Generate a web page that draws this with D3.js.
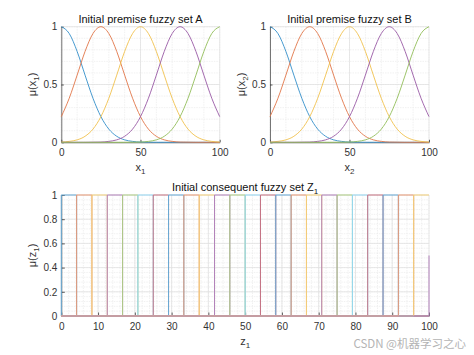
<!DOCTYPE html>
<html>
<head>
<meta charset="utf-8">
<script src="https://cdn.jsdelivr.net/npm/d3@7"></script>
<style>
html,body{margin:0;padding:0;background:#fff;}
svg{display:block;}
</style>
</head>
<body>
<svg id="chart" width="474" height="355"></svg>
<script>
// ---------------- DATA ----------------
const colors = ["#0072BD","#D95319","#EDB120","#7E2F8E","#77AC30","#4DBEEE","#A2142F"];

// sample positions for the premise membership curves
const xSamples = [0,5,10,15,20,25,30,35,40,45,50,55,60,65,70,75,80,85,90,95,100];

// premise fuzzy set A: five membership functions (values read at xSamples)
const muA1 = [1,.941,.786,.581,.381,.222,.114,.052,.021,.008,.002,.001,0,0,0,0,0,0,0,0,0];
const muA2 = [.222,.381,.581,.786,.941,1,.941,.786,.581,.381,.222,.114,.052,.021,.008,.002,.001,0,0,0,0];
const muA3 = [.002,.008,.021,.052,.114,.222,.381,.581,.786,.941,1,.941,.786,.581,.381,.222,.114,.052,.021,.008,.002];
const muA4 = [0,0,0,0,.001,.002,.008,.021,.052,.114,.222,.381,.581,.786,.941,1,.941,.786,.581,.381,.222];
const muA5 = [0,0,0,0,0,0,0,0,0,.001,.002,.008,.021,.052,.114,.222,.381,.581,.786,.941,1];

// premise fuzzy set B: same shapes as A
const muB1 = [1,.941,.786,.581,.381,.222,.114,.052,.021,.008,.002,.001,0,0,0,0,0,0,0,0,0];
const muB2 = [.222,.381,.581,.786,.941,1,.941,.786,.581,.381,.222,.114,.052,.021,.008,.002,.001,0,0,0,0];
const muB3 = [.002,.008,.021,.052,.114,.222,.381,.581,.786,.941,1,.941,.786,.581,.381,.222,.114,.052,.021,.008,.002];
const muB4 = [0,0,0,0,.001,.002,.008,.021,.052,.114,.222,.381,.581,.786,.941,1,.941,.786,.581,.381,.222];
const muB5 = [0,0,0,0,0,0,0,0,0,.001,.002,.008,.021,.052,.114,.222,.381,.581,.786,.941,1];

// consequent fuzzy set Z1: 25 rectangular sets (left edge, right edge, height)
const zLeft  = [0,4.17,8.33,12.5,16.67,20.83,25,29.17,33.33,37.5,41.67,45.83,50,54.17,58.33,62.5,66.67,70.83,75,79.17,83.33,87.5,91.67,95.83,100];
const zRight = [4.17,8.33,12.5,16.67,20.83,25,29.17,33.33,37.5,41.67,45.83,50,54.17,58.33,62.5,66.67,70.83,75,79.17,83.33,87.5,91.67,95.83,100,100];
const zTop   = [1,1,1,1,1,1,1,1,1,1,1,1,1,1,1,1,1,1,1,1,1,1,1,1,0.5];

// tick labels
const xTicksTop = [0,50,100];
const yTicksTop = [0,0.5,1];
const xTicksBot = [0,10,20,30,40,50,60,70,80,90,100];
const yTicksBot = [0,0.2,0.4,0.6,0.8,1];

// ---------------- DRAWING ----------------
const svg = d3.select("#chart");
const FONT = "'Liberation Sans', Arial, Helvetica, sans-serif";
const AX = "#333333";
const pale = (c, t) => d3.interpolateRgb(c, "#ffffff")(t);

function labelWithSub(sel, pre, sub, post) {
  sel.append("tspan").text(pre);
  sel.append("tspan").attr("font-size", 8).attr("dy", 3).text(sub);
  sel.append("tspan").attr("dy", -3).text(post);
}

function panel(cfg) {
  const g = svg.append("g");
  const x = d3.scaleLinear().domain([0,100]).range([cfg.x0, cfg.x1]);
  const y = d3.scaleLinear().domain([0,1]).range([cfg.y1, cfg.y0]);

  // minor grid
  const gg = g.append("g");
  d3.range(0, 100.001, cfg.xMinor).forEach(v => {
    gg.append("line").attr("x1", x(v)).attr("x2", x(v)).attr("y1", cfg.y0).attr("y2", cfg.y1)
      .attr("stroke", "#ebebeb").attr("stroke-width", 0.7).attr("stroke-dasharray", "1.5,1");
  });
  d3.range(0, 1.0001, cfg.yMinor).forEach(v => {
    gg.append("line").attr("x1", cfg.x0).attr("x2", cfg.x1).attr("y1", y(v)).attr("y2", y(v))
      .attr("stroke", "#ebebeb").attr("stroke-width", 0.7).attr("stroke-dasharray", "1.5,1");
  });
  // major grid
  cfg.xTicks.forEach(v => {
    gg.append("line").attr("x1", x(v)).attr("x2", x(v)).attr("y1", cfg.y0).attr("y2", cfg.y1)
      .attr("stroke", "#e0e0e0").attr("stroke-width", 0.7);
  });
  cfg.yTicks.forEach(v => {
    gg.append("line").attr("x1", cfg.x0).attr("x2", cfg.x1).attr("y1", y(v)).attr("y2", y(v))
      .attr("stroke", "#e0e0e0").attr("stroke-width", 0.7);
  });

  // axes
  const xa = g.append("g").attr("transform", `translate(0,${cfg.y1})`)
    .call(d3.axisBottom(x).tickValues(cfg.xTicks).tickSizeInner(-cfg.tick).tickSizeOuter(0).tickPadding(7).tickFormat(d3.format("")));
  const ya = g.append("g").attr("transform", `translate(${cfg.x0},0)`)
    .call(d3.axisLeft(y).tickValues(cfg.yTicks).tickSizeInner(-cfg.tick).tickSizeOuter(0).tickPadding(4).tickFormat(d3.format("")));
  [xa, ya].forEach(a => {
    a.selectAll("path.domain").attr("stroke", "#555").attr("stroke-width", 0.8);
    a.selectAll(".tick line").attr("stroke", AX).attr("stroke-width", 0.8);
    a.selectAll(".tick text").attr("fill", AX).attr("font-size", 10).attr("font-family", FONT);
  });
  ya.selectAll(".tick text").attr("x", -4);

  // title
  const t = g.append("text").attr("x", (cfg.x0 + cfg.x1) / 2).attr("y", cfg.y0 - 4)
    .attr("text-anchor", "middle").attr("font-family", FONT).attr("font-size", 11).attr("fill", "#111");
  labelWithSub(t, cfg.title[0], cfg.title[1], "");

  // x label
  const xl = g.append("text").attr("x", (cfg.x0 + cfg.x1) / 2).attr("y", cfg.y1 + 29)
    .attr("text-anchor", "middle").attr("font-family", FONT).attr("font-size", 11).attr("fill", AX);
  labelWithSub(xl, cfg.xlab[0], cfg.xlab[1], "");

  // y label
  const ylx = cfg.x0 - 25, yly = (cfg.y0 + cfg.y1) / 2;
  const yl = g.append("text").attr("transform", `translate(${ylx},${yly}) rotate(-90)`)
    .attr("text-anchor", "middle").attr("font-family", FONT).attr("font-size", 11).attr("fill", AX);
  labelWithSub(yl, cfg.ylab[0], cfg.ylab[1], ")");

  return {g, x, y};
}

function drawCurves(p, series) {
  const line = d3.line().x((d, i) => p.x(xSamples[i])).y(d => p.y(d)).curve(d3.curveMonotoneX);
  series.forEach((s, k) => {
    p.g.append("path").datum(s).attr("d", line).attr("fill", "none")
      .attr("stroke", pale(colors[k % 7], 0.2)).attr("stroke-width", 0.9);
  });
}

// Panel A
const pA = panel({x0: 61.3, x1: 219.7, y0: 26.7, y1: 142.3, xTicks: xTicksTop, yTicks: yTicksTop,
  xMinor: 10, yMinor: 0.1, tick: 2.5, title: ["Initial premise fuzzy set A", ""],
  xlab: ["x", "1"], ylab: ["\u03bc(x", "1"]});
drawCurves(pA, [muA1, muA2, muA3, muA4, muA5]);

// Panel B
const pB = panel({x0: 270, x1: 429, y0: 26.7, y1: 142.3, xTicks: xTicksTop, yTicks: yTicksTop,
  xMinor: 10, yMinor: 0.1, tick: 2.5, title: ["Initial premise fuzzy set B", ""],
  xlab: ["x", "2"], ylab: ["\u03bc(x", "2"]});
drawCurves(pB, [muB1, muB2, muB3, muB4, muB5]);

// Panel Z
const pZ = panel({x0: 61.3, x1: 429, y0: 195, y1: 316, xTicks: xTicksBot, yTicks: yTicksBot,
  xMinor: 2, yMinor: 0.04, tick: 3.5, title: ["Initial consequent fuzzy set Z", "1"],
  xlab: ["z", "1"], ylab: ["\u03bc(z", "1"]});
const zLine = d3.line().x(d => pZ.x(d[0])).y(d => pZ.y(d[1]));
zLeft.forEach((L, k) => {
  const R = zRight[k], T = zTop[k];
  const pts = [[0,0],[L,0],[L,T],[R,T]];
  if (R < 100) { pts.push([R,0]); pts.push([100,0]); }
  pZ.g.append("path").datum(pts).attr("d", zLine).attr("fill", "none")
    .attr("stroke", pale(colors[k % 7], 0.4)).attr("stroke-width", 1);
});

// watermark
svg.append("text").attr("x", 466).attr("y", 348).attr("text-anchor", "end")
  .attr("font-family", "'Noto Sans CJK SC', 'Noto Sans', sans-serif").attr("font-size", 11.5)
  .attr("fill", "#b4b4b4").text("CSDN @机器学习之心");
</script>
</body>
</html>
